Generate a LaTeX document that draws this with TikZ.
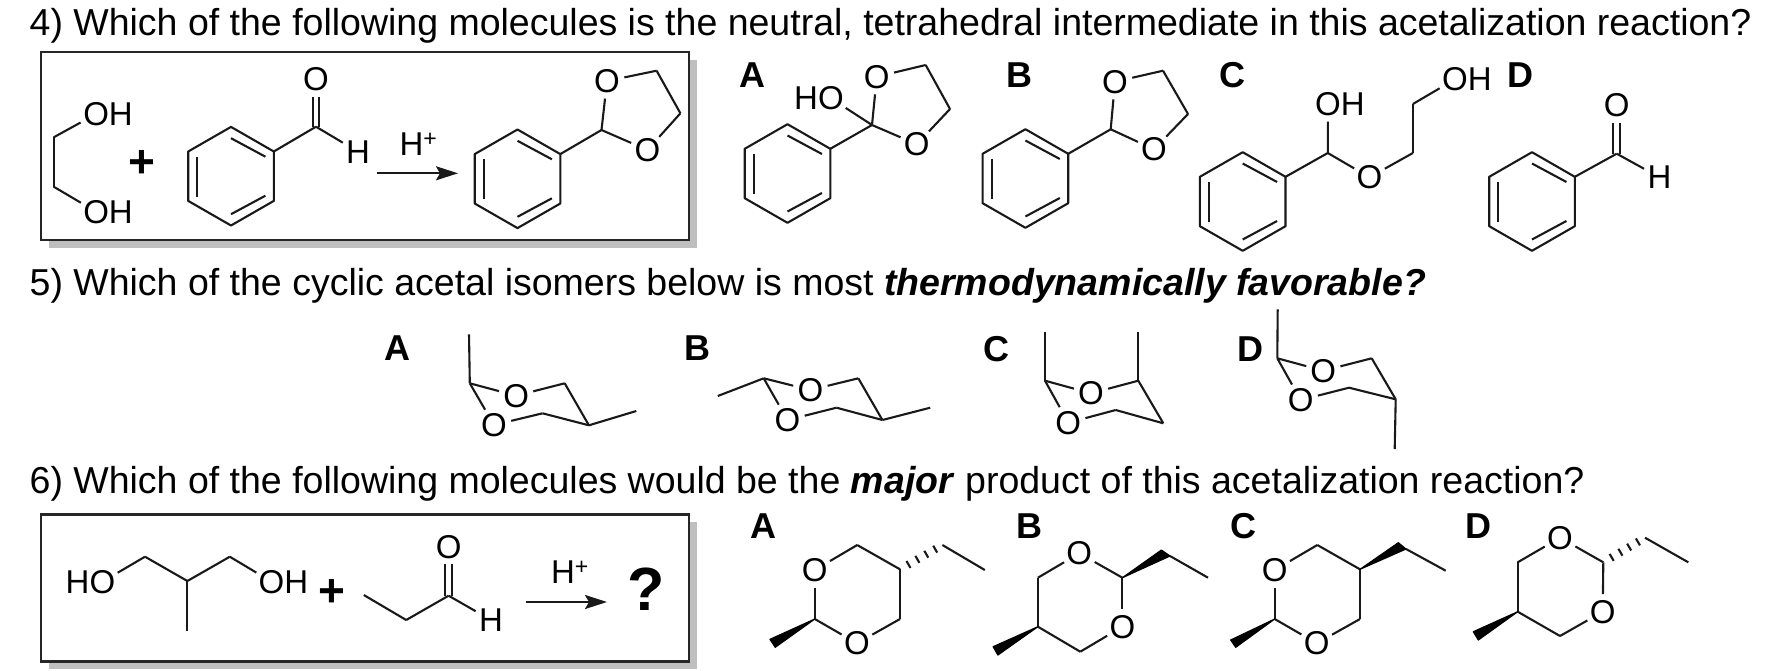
\documentclass[tikz,border=0pt]{standalone}
\usepackage{fontspec}
\setmainfont{Liberation Sans}
\usetikzlibrary{arrows.meta,calc,shadows}
\tikzset{
  bond/.style={line width=2.1pt,color=black!90,line join=round},
  dbl/.style={bond,double,double distance=4.6pt},
  atom/.style={circle,minimum size=35pt,inner sep=0pt,font=\fontsize{33}{38}\selectfont},
  letter/.style={inner sep=0pt,font=\fontsize{36}{40}\bfseries\selectfont},
  question/.style={anchor=base west,inner sep=0pt,font=\fontsize{37.5}{44}\selectfont},
  panel/.style={draw=black!85,line width=2.6pt,fill=white,anchor=north west,
    drop shadow={shadow xshift=8pt,shadow yshift=-8pt,fill=black!25,opacity=1}},
  phenyl/.pic={
    \coordinate (-t) at (0,-49.3);
    \coordinate (-ur) at (42.8,-24.7);
    \coordinate (-lr) at (42.8,24.7);
    \coordinate (-b) at (0,49.3);
    \coordinate (-ll) at (-42.8,24.7);
    \coordinate (-ul) at (-42.8,-24.7);
    \draw[bond] (-t) -- (-ur) -- (-lr) -- (-b) -- (-ll) -- (-ul) -- cycle;
    \draw[bond] (0,-38) -- (34.4,-19.5);
    \draw[bond] (-33.6,-19.5) -- (-33.6,20.5);
    \draw[bond] (0,38) -- (34.4,19.5);
  }
}
\begin{document}
\begin{tikzpicture}[x=1pt,y=-1pt]
  \useasboundingbox (0,0) rectangle (1788,670);
  \node[panel,minimum width=648pt,minimum height=188pt] (box1) at (39.5,50.5) {};
  \node[panel,minimum width=648pt,minimum height=147pt] (box2) at (39.5,513) {};
  \node[question] (q4) at (29.5,35.3) {4) Which of the following molecules is the neutral, tetrahedral intermediate in this acetalization reaction?};
  \node[question] (q5) at (29.5,295) {5) Which of the cyclic acetal isomers below is most \textbf{\textit{thermodynamically favorable?}}};
  \node[question] (q6) at (29.5,493) {6) Which of the following molecules would be the \textbf{\textit{major}} product of this acetalization reaction?};
  \def \Carbons{
    d1/53.7/137.3, d2/53.7/186.7, ald/316/126.7,
    acc/601.5/130, ac1/656.6/70.7, ac2/680.4/113.3,
    ac/872/125, a1/925.7/65, a2/950/109,
    bc/1110.7/129.3, b1/1163/70.7, b2/1188/114,
    cc/1327.8/153, c1/1412.9/153, c2/1412.9/104,
    dc/1616.7/153.7,
    eA0/469.8/383.3, eAm/469/334.3, eA1/564.7/383.3, eA2/588.9/425.3, eA3/542.5/413.3, eAe/636.3/411,
    eB0/763.7/378.3, eBm/717.8/396, eB1/858.3/378.3, eB2/882.4/420, eB3/836.5/407.7, eBe/930.2/407.7,
    eC0/1045/380.7, eCm/1045/332.3, eC1/1138.3/380.7, eCn/1138.3/332.3, eC2/1163.3/423.3, eC3/1115.7/410,
    eD0/1277.3/358.3, eDm/1277.7/309.3, eD1/1371.7/358.3, eD2/1395.7/399.3, eD3/1349/387.7, eDe/1394.7/449,
    m1/145/556.7, m2/187.4/581, m3/229.8/556.7, m4/187.4/631,
    pr1/363.8/595, pr2/406.2/620, pr3/448.6/595.7,
    fA0/814.8/619, fA1/857.2/545, fA2/900/569.3, fA3/900/619, fAe1/942.4/545, fAe2/984.8/570,
    fAw1/770/639.3, fAw2/775.2/647.3,
    fB0/1122.4/577.7, fB1/1037.9/577.7, fB2/1037.9/626.7, fB3/1080.3/651.7, fBe1/1170/556, fBe2/1208/577.7,
    fBw1/1161.4/550, fBw2/993.1/646.7, fBw3/997.9/655,
    fC0/1274.7/619, fC1/1317.3/545, fC2/1360/569.3, fC3/1360/619, fCe1/1406/549, fCe2/1445.7/570.7,
    fCw1/1230.7/640, fCw2/1235.7/647.3, fCw3/1398.3/542.7,
    fD0/1603.3/562.3, fD1/1517.7/562.3, fD2/1517.7/611.7, fD3/1560/636, fDe1/1645/537.7, fDe2/1688.3/562.3,
    fDw1/1473.3/631.7, fDw2/1478.3/640,
    ar1s/377.4/173.3, ar1e/458/173.3, ar2s/525.8/602, ar2e/607/602}
  \def \Atoms{
    ro1/O\rlap{H}/96.1/114, ro2/O\rlap{H}/96.1/211.7, alo/O/316/79, alh/H/358/151.7,
    po1/O/607/81, po2/O/647.4/150,
    aoh/\llap{H}O/830.9/98.3, ao1/O/876.8/76.7, ao2/O/916.8/144.3,
    bo1/O/1115/81.7, bo2/O/1154/149.3,
    coh1/O\rlap{H}/1327.9/104, co/O/1369.4/177.3, coh2/O\rlap{H}/1454.9/79.3,
    dao/O/1616.7/105, dah/H/1659.5/177.3,
    eAo1/O/516.1/395.7, eAo2/O/494/425, eBo1/O/810.4/390, eBo2/O/787.5/420,
    eCo1/O/1091/393.3, eCo2/O/1068.3/422.7, eDo1/O/1323.3/370.7, eDo2/O/1300.7/400,
    mo1/\llap{H}O/102.4/581.7, mo2/O\rlap{H}/271.5/581.7, pro/O/448.6/546.7, prh/H/491/620,
    fAo1/O/814.8/570, fAo2/O/856.9/643.3, fBo1/O/1079.3/553.3, fBo2/O/1122.4/626.7,
    fCo1/O/1274.7/570, fCo2/O/1316.7/643.3, fDo1/O/1560/537.7, fDo2/O/1602.7/611.7}
  \def \Letters{
    la4/A/752.5/75, lb4/B/1019/75, lc4/C/1232.8/75, ld4/D/1520.5/75,
    la5/A/397.5/348.5, lb5/B/697.5/348.5, lc5/C/996/349, ld5/D/1250.7/349,
    la6/A/763/526, lb6/B/1029.7/526, lc6/C/1243.3/526, ld6/D/1478.7/526}
  \def \Phenyls{
    ph1/231/176.2, ph2/517.5/178.8, ph3/787.5/173.5, ph4/1025.4/178.5, ph5/1242.7/201.5, ph6/1532/201.5}
  \def \Bonds{
    d1/d2, d1/ro1, d2/ro2, ph1-ur/ald, ald/alh,
    ph2-ur/acc, acc/po1, acc/po2, po1/ac1, ac1/ac2, ac2/po2,
    ph3-ur/ac, ac/aoh, ac/ao1, ac/ao2, ao1/a1, a1/a2, a2/ao2,
    ph4-ur/bc, bc/bo1, bc/bo2, bo1/b1, b1/b2, b2/bo2,
    ph5-ur/cc, cc/coh1, cc/co, co/c1, c1/c2, c2/coh2,
    ph6-ur/dc, dc/dah,
    eAm/eA0, eA0/eAo1, eAo1/eA1, eA1/eA2, eA2/eA3, eA3/eAo2, eA0/eAo2, eA2/eAe,
    eBm/eB0, eB0/eBo1, eBo1/eB1, eB1/eB2, eB2/eB3, eB3/eBo2, eB0/eBo2, eB2/eBe,
    eCm/eC0, eC0/eCo1, eCo1/eC1, eC1/eCn, eC1/eC2, eC2/eC3, eC3/eCo2, eC0/eCo2,
    eDm/eD0, eD0/eDo1, eDo1/eD1, eD1/eD2, eD2/eD3, eD3/eDo2, eD0/eDo2, eD2/eDe,
    m1/mo1, m1/m2, m2/m3, m3/mo2, m2/m4, pr1/pr2, pr2/pr3, pr3/prh,
    fAo1/fA0, fAo1/fA1, fA1/fA2, fA2/fA3, fA3/fAo2, fA0/fAo2, fAe1/fAe2,
    fBo1/fB1, fB1/fB2, fB2/fB3, fB3/fBo2, fBo1/fB0, fB0/fBo2, fBe1/fBe2,
    fCo1/fC0, fCo1/fC1, fC1/fC2, fC2/fC3, fC3/fCo2, fC0/fCo2, fCe1/fCe2,
    fDo1/fD1, fD1/fD2, fD2/fD3, fD3/fDo2, fDo1/fD0, fD0/fDo2, fDe1/fDe2}
  \foreach \id / \x / \y in \Carbons{
    \coordinate (\id) at (\x, \y);
  }
  \foreach \id / \txt / \x / \y in \Atoms{
    \node[atom] (\id) at (\x, \y) {\txt};
  }
  \foreach \id / \txt / \x / \y in \Letters{
    \node[letter] (\id) at (\x, \y) {\txt};
  }
  \foreach \id / \x / \y in \Phenyls{
    \pic (\id) at (\x, \y) {phenyl};
  }
  \foreach \x / \y in {ald/alo, dc/dao, pr3/pro}{
    \draw[dbl] (\x) -- (\y);
  }
  \foreach \x / \y in \Bonds{
    \draw[bond] (\x) -- (\y);
  }
  \foreach \t / \x / \y in {fA0/fAw1/fAw2, fB0/fBw1/fBe1, fB2/fBw2/fBw3, fC0/fCw1/fCw2, fC2/fCw3/fCe1, fD2/fDw1/fDw2}{
    \filldraw[black,line width=1.2pt,line join=round] (\t) -- (\x) -- (\y) -- cycle;
  }
  \foreach \x / \y in {fA2/fAe1, fD0/fDe1}{
    \foreach \t in {0.2,0.41,0.62,0.83}{
      \coordinate (hm) at ($(\x)!\t!(\y)$);
      \draw[bond] ($(hm)!4pt!90:(\y)$) -- ($(hm)!4pt!-90:(\y)$);
    }
  }
  \foreach \x / \y in {ar1s/ar1e, ar2s/ar2e}{
    \draw[bond,-{Stealth[length=22pt,width=14pt,inset=4pt]}] (\x) -- (\y);
  }
  \node[atom] (hp1) at (418.5,144) {H\textsuperscript{+}};
  \node[atom] (hp2) at (570,571.7) {H\textsuperscript{+}};
  \node[letter,font=\fontsize{46}{50}\bfseries\selectfont] (plus1) at (142,164) {+};
  \node[letter,font=\fontsize{46}{50}\bfseries\selectfont] (plus2) at (331.6,593) {+};
  \node[letter,font=\fontsize{61}{66}\bfseries\selectfont] (qm) at (646,589) {?};
\end{tikzpicture}
\end{document}
